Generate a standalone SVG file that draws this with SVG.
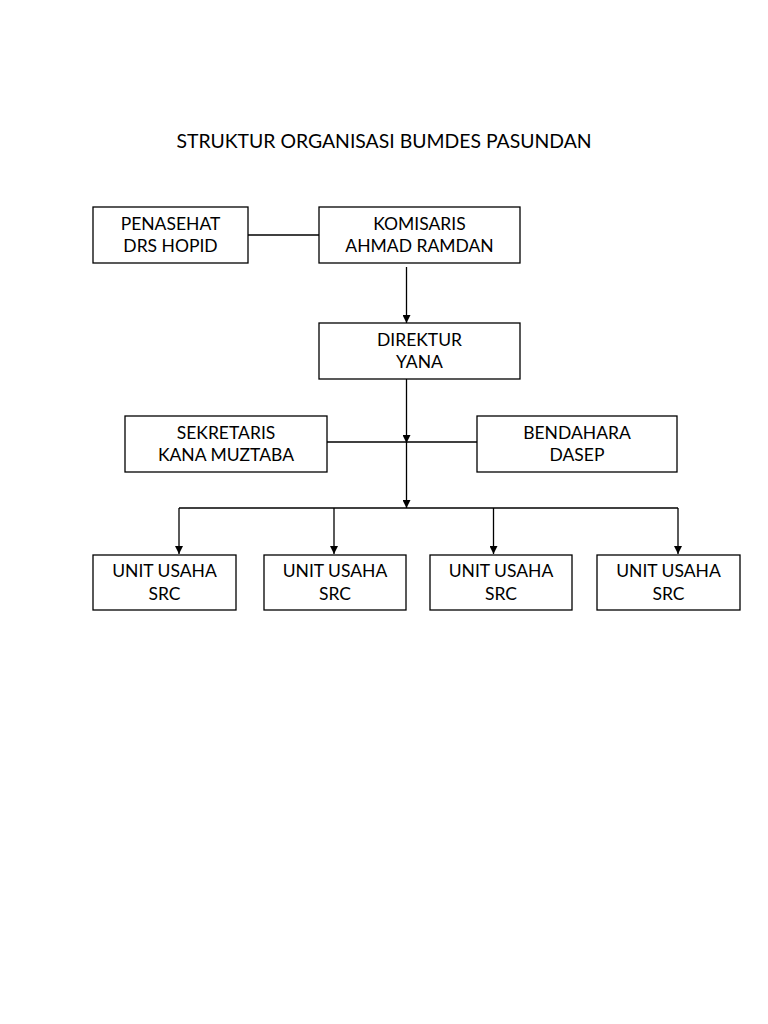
<svg xmlns="http://www.w3.org/2000/svg" width="768" height="1024" viewBox="0 0 768 1024">
<style>
.box{fill:#fff;stroke:#000;stroke-width:1.3}
.t{font-family:Lato,"Open Sans","Liberation Sans",sans-serif;font-size:17.5px;fill:#000;text-anchor:middle}
.title{font-family:Lato,"Open Sans","Liberation Sans",sans-serif;font-size:19.4px;fill:#000;text-anchor:middle}
.c{fill:none;stroke:#000;stroke-width:1.3}
</style>
<defs>
<marker id="arr" viewBox="0 0 10 10" refX="10" refY="5" markerWidth="8" markerHeight="8" markerUnits="userSpaceOnUse" orient="auto">
<path d="M0,0 L10,5 L0,10 z" fill="#000"/>
</marker>
</defs>
<rect width="768" height="1024" fill="#fff"/>
<text class="title" x="384" y="148">STRUKTUR ORGANISASI BUMDES PASUNDAN</text>
<g id="connectors">
<line class="c" x1="248" y1="235" x2="319" y2="235"/>
<line class="c" x1="406.5" y1="267" x2="406.5" y2="323" marker-end="url(#arr)"/>
<line class="c" x1="406.5" y1="379" x2="406.5" y2="443" marker-end="url(#arr)"/>
<line class="c" x1="327" y1="442" x2="477" y2="442"/>
<line class="c" x1="406.5" y1="442" x2="406.5" y2="508" marker-end="url(#arr)"/>
<line class="c" x1="179" y1="508" x2="678" y2="508"/>
<line class="c" x1="179" y1="508" x2="179" y2="554" marker-end="url(#arr)"/>
<line class="c" x1="334" y1="508" x2="334" y2="554" marker-end="url(#arr)"/>
<line class="c" x1="493.5" y1="508" x2="493.5" y2="554" marker-end="url(#arr)"/>
<line class="c" x1="678" y1="508" x2="678" y2="554" marker-end="url(#arr)"/>
</g>
<g id="penasehat">
<rect class="box" x="93" y="207" width="155" height="56"/>
<text class="t" x="170.5" y="230">PENASEHAT</text>
<text class="t" x="170.5" y="252">DRS HOPID</text>
</g>
<g id="komisaris">
<rect class="box" x="319" y="207" width="201" height="56"/>
<text class="t" x="419.5" y="230">KOMISARIS</text>
<text class="t" x="419.5" y="252">AHMAD RAMDAN</text>
</g>
<g id="direktur">
<rect class="box" x="319" y="323" width="201" height="56"/>
<text class="t" x="419.5" y="346">DIREKTUR</text>
<text class="t" x="419.5" y="368">YANA</text>
</g>
<g id="sekretaris">
<rect class="box" x="125" y="416" width="202" height="56"/>
<text class="t" x="226" y="439">SEKRETARIS</text>
<text class="t" x="226" y="461">KANA MUZTABA</text>
</g>
<g id="bendahara">
<rect class="box" x="477" y="416" width="200" height="56"/>
<text class="t" x="577" y="439">BENDAHARA</text>
<text class="t" x="577" y="461">DASEP</text>
</g>
<g id="unit1">
<rect class="box" x="93" y="555" width="143" height="55"/>
<text class="t" x="164.5" y="577">UNIT USAHA</text>
<text class="t" x="164.5" y="600">SRC</text>
</g>
<g id="unit2">
<rect class="box" x="264" y="555" width="142" height="55"/>
<text class="t" x="335" y="577">UNIT USAHA</text>
<text class="t" x="335" y="600">SRC</text>
</g>
<g id="unit3">
<rect class="box" x="430" y="555" width="142" height="55"/>
<text class="t" x="501" y="577">UNIT USAHA</text>
<text class="t" x="501" y="600">SRC</text>
</g>
<g id="unit4">
<rect class="box" x="597" y="555" width="143" height="55"/>
<text class="t" x="668.5" y="577">UNIT USAHA</text>
<text class="t" x="668.5" y="600">SRC</text>
</g>
</svg>
